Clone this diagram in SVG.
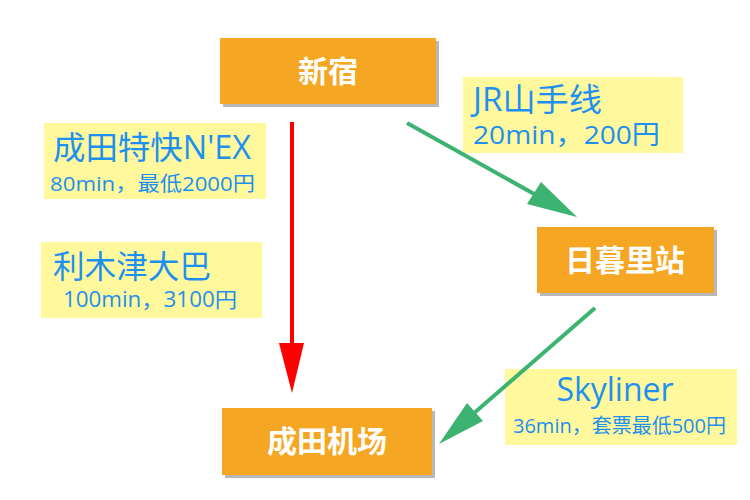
<svg xmlns="http://www.w3.org/2000/svg" width="750" height="500" viewBox="0 0 750 500">
<defs>
<style>
.node rect.box{fill:#F5A623;}
.node rect.sh{fill:#B8B8B8;}
.node text{font-family:"Noto Sans CJK SC","Noto Sans",sans-serif;font-weight:bold;font-size:30px;fill:#FFFFFF;text-anchor:middle;}
.lbl rect{fill:#FFF89C;}
.lbl text{font-family:"Open Sans","Noto Sans CJK SC",sans-serif;fill:#1E90F0;}
.big{font-size:32px;}
.small{font-size:20px;}
</style>
</defs>
<rect width="750" height="500" fill="#FFFFFF"/>
<g id="label-nex" class="lbl">
<rect x="44" y="123" width="222" height="76"/>
<text class="big" x="53" y="159" textLength="198" lengthAdjust="spacingAndGlyphs">成田特快N'EX</text>
<text class="small" x="50" y="191" textLength="205" lengthAdjust="spacingAndGlyphs">80min，最低2000円</text>
</g>
<g id="label-bus" class="lbl">
<rect x="41" y="242" width="221" height="76"/>
<text class="big" x="53" y="278" textLength="158" lengthAdjust="spacingAndGlyphs">利木津大巴</text>
<text class="small" x="63" y="307" style="font-size:21px" textLength="174" lengthAdjust="spacingAndGlyphs">100min，3100円</text>
</g>
<g id="label-jr" class="lbl">
<rect x="463" y="77" width="220" height="76"/>
<text class="big" x="473" y="111" textLength="129" lengthAdjust="spacingAndGlyphs">JR山手线</text>
<text x="473" y="144" style="font-size:26px" textLength="187" lengthAdjust="spacingAndGlyphs">20min，200円</text>
</g>
<g id="label-skyliner" class="lbl">
<rect x="505" y="369" width="232" height="76"/>
<text class="big" x="615" y="401" text-anchor="middle">Skyliner</text>
<text class="small" x="513" y="433" textLength="213" lengthAdjust="spacingAndGlyphs">36min，套票最低500円</text>
</g>
<g id="node-shinjuku" class="node">
<rect class="sh" x="223" y="41" width="216" height="66"/>
<rect class="box" x="220" y="38" width="216" height="66"/>
<text x="328" y="82">新宿</text>
</g>
<g id="node-nippori" class="node">
<rect class="sh" x="540" y="230" width="177" height="66"/>
<rect class="box" x="537" y="227" width="177" height="66"/>
<text x="625" y="271">日暮里站</text>
</g>
<g id="node-narita" class="node">
<rect class="sh" x="225" y="411" width="210" height="67"/>
<rect class="box" x="222" y="408" width="210" height="67"/>
<text x="327" y="452">成田机场</text>
</g>
<g id="connectors">
<line x1="292" y1="122" x2="292" y2="346" stroke="#FF0000" stroke-width="4"/>
<polygon points="279,343 304,343 292,393" fill="#FF0000"/>
<line x1="407" y1="123" x2="536" y2="195" stroke="#3CB371" stroke-width="4"/>
<polygon points="527,204 541,182 577,217" fill="#3CB371"/>
<line x1="595" y1="308" x2="473" y2="414" stroke="#3CB371" stroke-width="4"/>
<polygon points="467,403 483,421 439,444" fill="#3CB371"/>
</g>
</svg>
